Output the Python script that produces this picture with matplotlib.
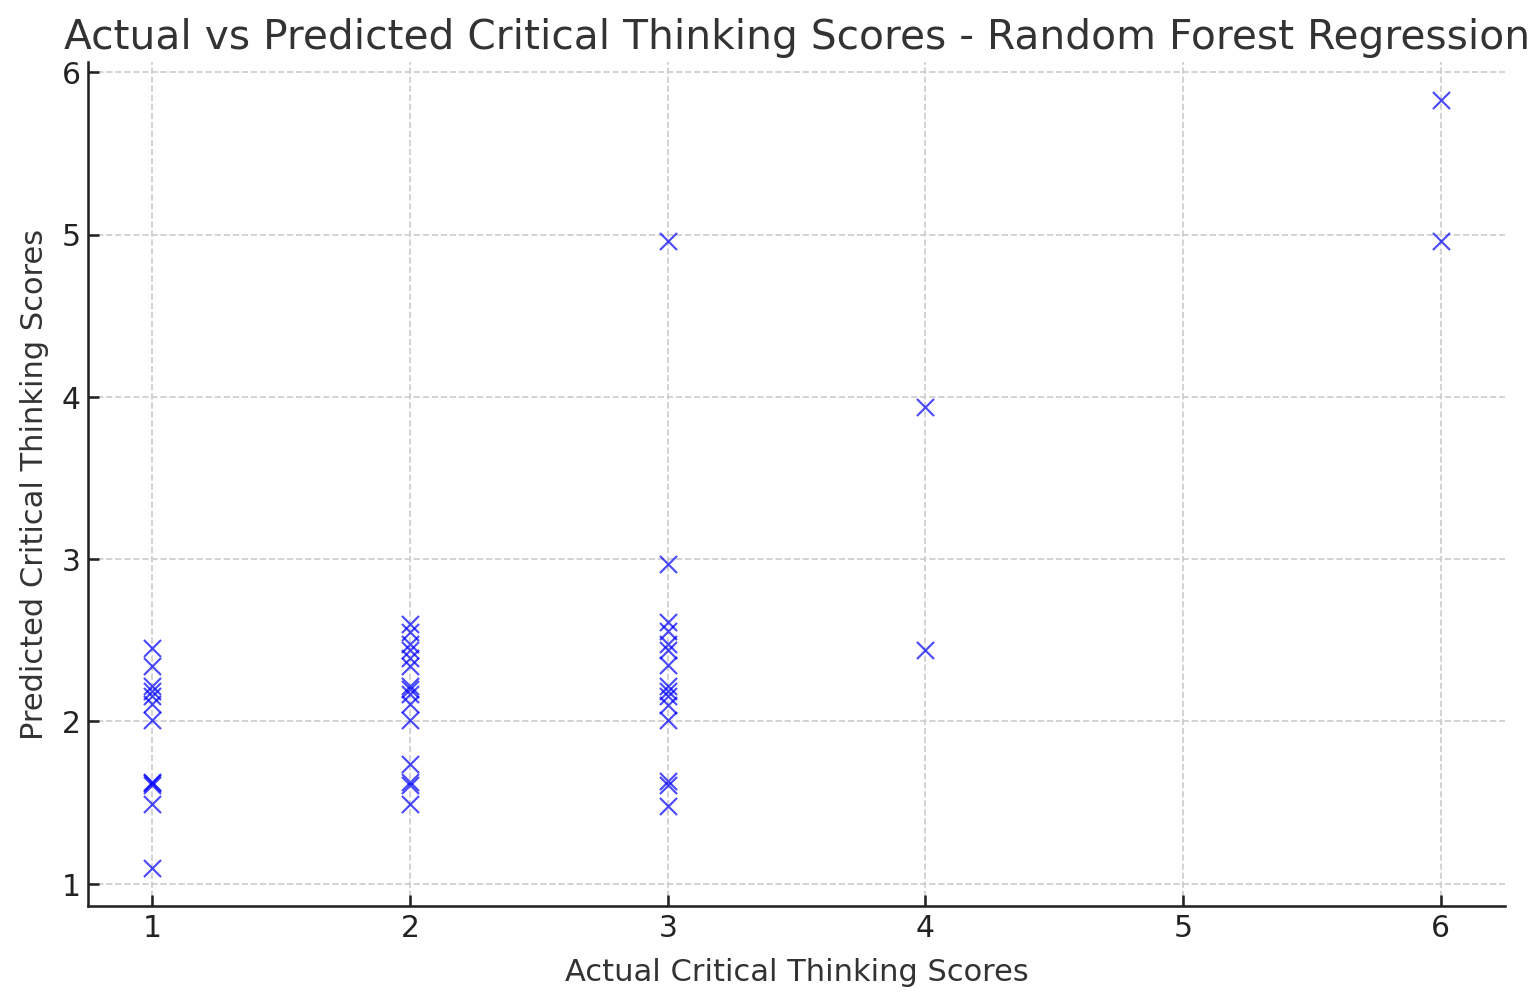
import numpy as np
import matplotlib
matplotlib.use("Agg")
from matplotlib import pyplot as plt

# actual scores (x) and random forest predictions (y)
actual_1 = [1] * 12
pred_1 = [2.45, 2.34, 2.22, 2.19, 2.16, 2.11, 2.01, 1.63, 1.61, 1.62, 1.49, 1.10]

actual_2 = [2] * 15
pred_2 = [2.60, 2.55, 2.48, 2.44, 2.39, 2.34, 2.22, 2.20, 2.17, 2.11, 2.01,
          1.74, 1.63, 1.61, 1.49]

actual_3 = [3] * 15
pred_3 = [4.96, 2.97, 2.61, 2.56, 2.48, 2.44, 2.35, 2.22, 2.19, 2.16, 2.10,
          2.01, 1.635, 1.61, 1.48]

actual_4 = [4, 4]
pred_4 = [3.94, 2.44]

actual_6 = [6, 6]
pred_6 = [5.83, 4.96]

actual = actual_1 + actual_2 + actual_3 + actual_4 + actual_6
predicted = pred_1 + pred_2 + pred_3 + pred_4 + pred_6

text_col = '#333333'

fig = plt.figure(figsize=(10, 6.5), dpi=153.6)
ax = fig.add_axes([0.0573, 0.0922, 0.9227, 0.8458])

ax.scatter(actual, predicted, marker='x', color='blue', alpha=0.7, s=64, linewidths=1.0)

ax.set_title('Actual vs Predicted Critical Thinking Scores - Random Forest Regression',
             fontsize=19.1, color=text_col, pad=6)
ax.set_xlabel('Actual Critical Thinking Scores', fontsize=14.3, color=text_col, labelpad=7)
ax.set_ylabel('Predicted Critical Thinking Scores', fontsize=14.3, color=text_col, labelpad=6)

ax.grid(True, linestyle='--', color='#cccccc', linewidth=0.8)
ax.set_axisbelow(True)
ax.tick_params(direction='in', labelsize=14, length=5, width=1.2, colors='#222222')
for side in ['top', 'right']:
    ax.spines[side].set_visible(False)
for side in ['left', 'bottom']:
    ax.spines[side].set_linewidth(1.2)
    ax.spines[side].set_color('#222222')

fig.savefig('out.png', dpi=153.6)
